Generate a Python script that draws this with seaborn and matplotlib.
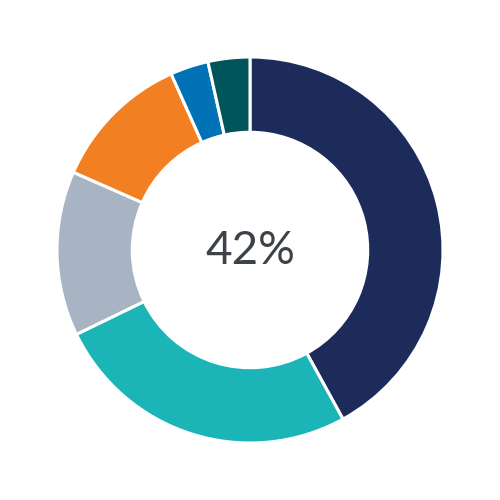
import matplotlib
matplotlib.use("Agg")
import matplotlib.pyplot as plt
import seaborn as sns

sns.set_theme(style="white")
plt.rcParams['font.family'] = ['Lato', 'DejaVu Sans']

categories = ["A", "B", "C", "D", "E", "F"]
values = [42, 25.8, 13.8, 11.7, 3.2, 3.5]
colors = ["#1c2b5a", "#1bb4b7", "#a8b4c3", "#f27f22", "#0072b5", "#00555a"]
center_label = "42%"

fig = plt.figure(figsize=(5, 5), dpi=100)
ax = fig.add_axes([0, 0, 1, 1])
ax.pie(values, colors=colors, startangle=90, counterclock=False, radius=1,
       wedgeprops=dict(width=0.39, edgecolor="white", linewidth=2.2))
lim = 250 / 193
ax.set_xlim(-lim, lim)
ax.set_ylim(-lim, lim)
ax.set_aspect("equal")
ax.axis("off")
ax.text(0, -0.005, center_label, ha="center", va="center", fontsize=33,
        color="#3d4249", fontweight="normal")
fig.savefig("out.png", dpi=100, facecolor="white")
